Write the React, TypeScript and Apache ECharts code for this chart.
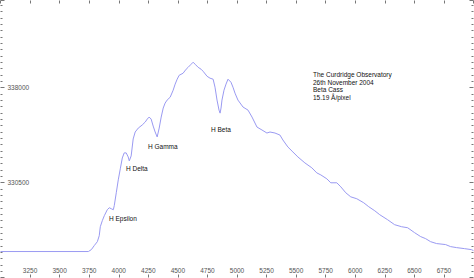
import React, { useEffect, useRef } from "react";
import * as echarts from "echarts";

// Wavelength (Angstrom) and relative intensity
const wavelengths = [
  3000, 3743, 3768, 3793, 3819, 3835, 3844, 3861, 3878, 3903, 3920, 3937, 3954, 3962, 3979, 3996,
  4013, 4030, 4046, 4063, 4080, 4089, 4105, 4122, 4139, 4165, 4198, 4224, 4241, 4257, 4274, 4291,
  4308, 4325, 4342, 4359, 4376, 4392, 4409, 4435, 4460, 4477, 4494, 4511, 4544, 4570, 4587, 4612,
  4629, 4646, 4671, 4696, 4713, 4747, 4772, 4798, 4814, 4831, 4848, 4857, 4865, 4873, 4890, 4907,
  4924, 4949, 4966, 4983, 5008, 5051, 5093, 5127, 5169, 5211, 5253, 5279, 5321, 5363, 5388, 5430,
  5473, 5515, 5574, 5633, 5675, 5709, 5760, 5793, 5844, 5878, 5920, 5962, 6013, 6072, 6114, 6165,
  6207, 6274, 6333, 6392, 6443, 6502, 6553, 6595, 6637, 6688, 6764, 6806, 6857, 6924, 6983, 7000,
];
const intensities = [
  325050, 325050, 325200, 325520, 325830, 326300, 327010, 327490, 327880, 328350, 328510, 328430, 328350, 328670, 329690, 330710,
  331580, 332440, 332840, 332840, 332520, 332210, 332600, 333940, 334490, 334800, 335040, 335280, 335510, 335670, 335510, 334960,
  334490, 334100, 334800, 335670, 336380, 336770, 337010, 337240, 337790, 338270, 338660, 338970, 339130, 339450, 339600, 339840,
  340000, 339840, 339600, 339450, 339290, 338890, 338740, 338660, 338030, 337010, 336220, 335980, 336380, 337010, 337790, 338270,
  338660, 338420, 338030, 337560, 337010, 336460, 336220, 335670, 334880, 334650, 334410, 334490, 334410, 334250, 333860, 333310,
  332910, 332520, 332050, 331660, 331260, 331100, 330790, 330480, 330480, 330160, 329690, 329370, 329220, 328900, 328590, 328270,
  327960, 327560, 327170, 327010, 326930, 326540, 326230, 326070, 325830, 325680, 325600, 325440, 325360, 325280, 325200, 325120,
];

const lineLabels = ["H Epsilon", "H Delta", "H Gamma", "H Beta"];
const infoLines = ["The Curdridge Observatory", "26th November 2004", "Beta Cass", "15.19 Å/pixel"];

const X_MIN = 3000;
const X_MAX = 7000;
const X_STEP = 250;
const Y_MIN = 323000;
const Y_MAX = 344875;
const Y_STEP = 7500;

export default function App() {
  const ref = useRef<HTMLDivElement>(null);

  useEffect(() => {
    document.body.style.margin = "0";
    if (!ref.current) return;
    const chart = echarts.init(ref.current, null, { renderer: "svg" });
    const tickColor = "#777";
    const labelStyle = { color: "#555", fontSize: 6.5, fontFamily: "Liberation Sans, Arial, sans-serif" };
    const textFont = { fill: "#111", fontSize: 6.5, fontFamily: "Liberation Sans, Arial, sans-serif" };
    const labelPos = [
      [109, 219],
      [126, 169],
      [148, 147],
      [211, 130],
    ];
    const graphics: any[] = lineLabels.map((t, i) => ({
      type: "text",
      left: labelPos[i][0],
      top: labelPos[i][1] - 4,
      style: { text: t, ...textFont },
    }));
    infoLines.forEach((t, i) => {
      graphics.push({
        type: "text",
        left: 313,
        top: 71 + i * 7.6,
        style: { text: t, ...textFont },
      });
    });

    const fmt = (v: number) => String(v);
    const xCommon = {
      type: "value",
      min: X_MIN,
      max: X_MAX,
      interval: X_STEP,
      axisLine: { show: false },
      splitLine: { show: false },
      axisTick: { show: true, inside: true, length: 3, lineStyle: { color: tickColor, width: 1 } },
    };
    const yCommon = {
      type: "value",
      min: Y_MIN,
      max: Y_MAX,
      interval: Y_STEP,
      axisLine: { show: false },
      splitLine: { show: false },
      axisTick: { show: true, inside: true, length: 4, lineStyle: { color: tickColor, width: 1 } },
      minorTick: { show: true, splitNumber: 15, length: 2, lineStyle: { color: tickColor, width: 1 } },
    };

    chart.setOption({
      animation: false,
      backgroundColor: "#fff",
      grid: { left: 0.5, right: 0.5, top: 0.5, bottom: 0.5, containLabel: false },
      xAxis: [
        {
          ...xCommon,
          position: "bottom",
          axisLabel: {
            show: true,
            inside: true,
            margin: 4,
            showMinLabel: false,
            showMaxLabel: false,
            formatter: fmt,
            ...labelStyle,
          },
        },
        { ...xCommon, position: "top", axisLabel: { show: false } },
      ],
      yAxis: [
        {
          ...yCommon,
          position: "left",
          axisLabel: {
            show: true,
            inside: true,
            margin: 7,
            showMinLabel: false,
            showMaxLabel: false,
            formatter: fmt,
            ...labelStyle,
          },
        },
        { ...yCommon, position: "right", axisLabel: { show: false } },
      ],
      series: [
        {
          type: "line",
          data: wavelengths.map((w, i) => [w, intensities[i]]),
          showSymbol: false,
          symbol: "none",
          smooth: false,
          lineStyle: { color: "#9a9af2", width: 1 },
          silent: true,
        },
      ],
      graphic: graphics,
    });
    return () => chart.dispose();
  }, []);

  return <div ref={ref} style={{ width: 474, height: 278 }} />;
}
